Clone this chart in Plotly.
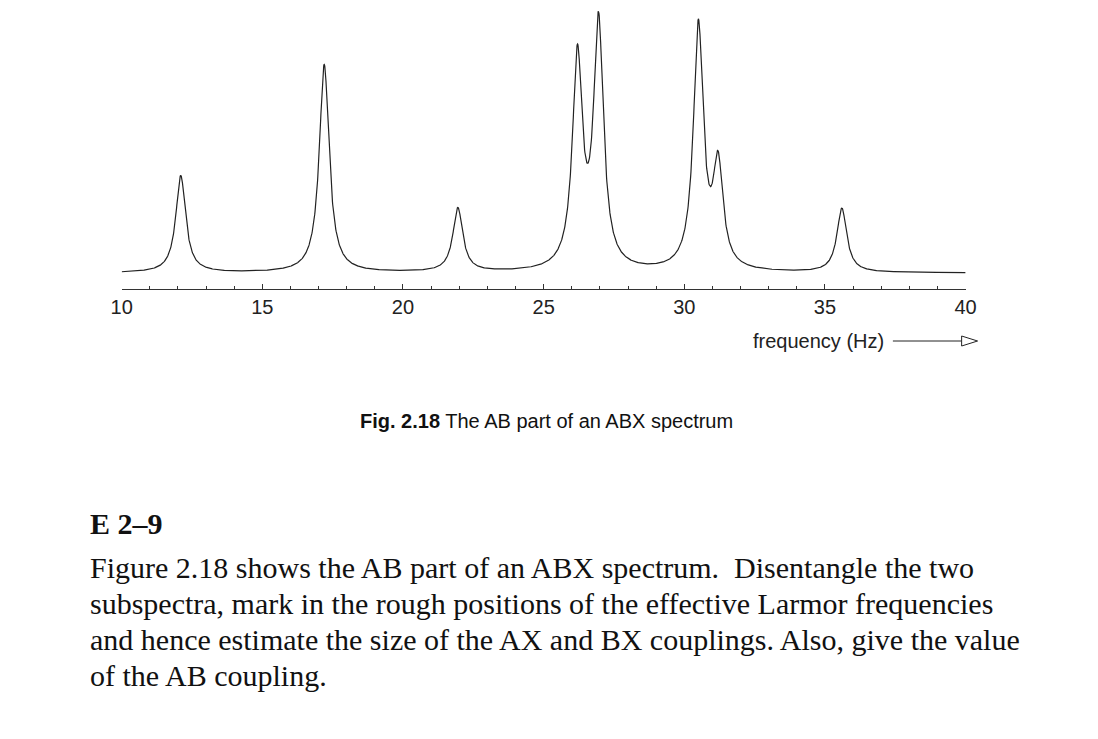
import numpy as np
import plotly.graph_objects as go

# Peak list (Hz, height in plot px, half-width Hz)
peak_pos = [12.1, 17.2, 21.95, 26.2, 26.95, 30.5, 31.2, 35.6]
peak_height = [97, 208, 64, 210, 245, 244, 101, 64]
half_width = 0.21
baseline = 16

x = np.linspace(10, 40, 3000)
y = np.full_like(x, baseline, dtype=float)
for p, h in zip(peak_pos, peak_height):
    y += h / (1 + ((x - p) / half_width) ** 2)

W, H = 1098, 739
# the page renders with a small offset, compensate for it
def px(v):
    return ((v - 15.96) / 0.9835) / W
def py(v):
    return 1 - (v - 8) / H

fig = go.Figure()
fig.add_trace(go.Scatter(x=x, y=y, mode='lines',
                         line=dict(color='#222', width=1.2), showlegend=False))

fig.update_layout(
    width=W, height=H, margin=dict(l=0, r=0, t=0, b=0),
    paper_bgcolor='white', plot_bgcolor='white',
    xaxis=dict(domain=[px(119), px(966)], range=[10, 40], tickvals=[10, 15, 20, 25, 30, 35, 40],
               ticks='inside', ticklen=5, tickcolor='#333', showgrid=False, zeroline=False,
               showline=True, linecolor='#333', linewidth=1,
               minor=dict(dtick=1, ticks='inside', ticklen=3, tickcolor='#333'),
               tickfont=dict(family='Liberation Sans', size=20, color='#222'),
               anchor='y'),
    yaxis=dict(domain=[py(289), py(8)], range=[0, 281], visible=False),
)

fig.add_annotation(xref='paper', yref='paper', x=px(886), y=py(341), text='frequency (Hz)',
                   showarrow=False, xanchor='right', yanchor='middle',
                   font=dict(family='Liberation Sans', size=20, color='#222'))
fig.add_shape(type='line', xref='paper', yref='paper', x0=px(893), x1=px(962),
              y0=py(341), y1=py(341), line=dict(color='#222', width=1))
fig.add_shape(type='path', xref='paper', yref='paper',
              path=f'M {px(962)} {py(336)} L {px(978)} {py(341)} L {px(962)} {py(346)} Z',
              line=dict(color='#222', width=1), fillcolor='white')

fig.add_annotation(xref='paper', yref='paper', x=px(545), y=py(421),
                   text='<b>Fig. 2.18</b> The AB part of an ABX spectrum', showarrow=False,
                   font=dict(family='Liberation Sans', size=20, color='#111'))

fig.add_annotation(xref='paper', yref='paper', x=px(85), y=py(523), text='<b>E 2–9</b>',
                   showarrow=False, xanchor='left', yanchor='middle',
                   font=dict(family='Liberation Serif', size=30, color='#111'))
lines = [
    'Figure 2.18 shows the AB part of an ABX spectrum.  Disentangle the two',
    'subspectra, mark in the rough positions of the effective Larmor frequencies',
    'and hence estimate the size of the AX and BX couplings. Also, give the value',
    'of the AB coupling.',
]
for i, t in enumerate(lines):
    fig.add_annotation(xref='paper', yref='paper', x=px(85), y=py(567 + 36.3 * i), text=t,
                       showarrow=False, xanchor='left', yanchor='middle',
                       font=dict(family='Liberation Serif', size=30, color='#111'))

fig.write_html('out.html')
